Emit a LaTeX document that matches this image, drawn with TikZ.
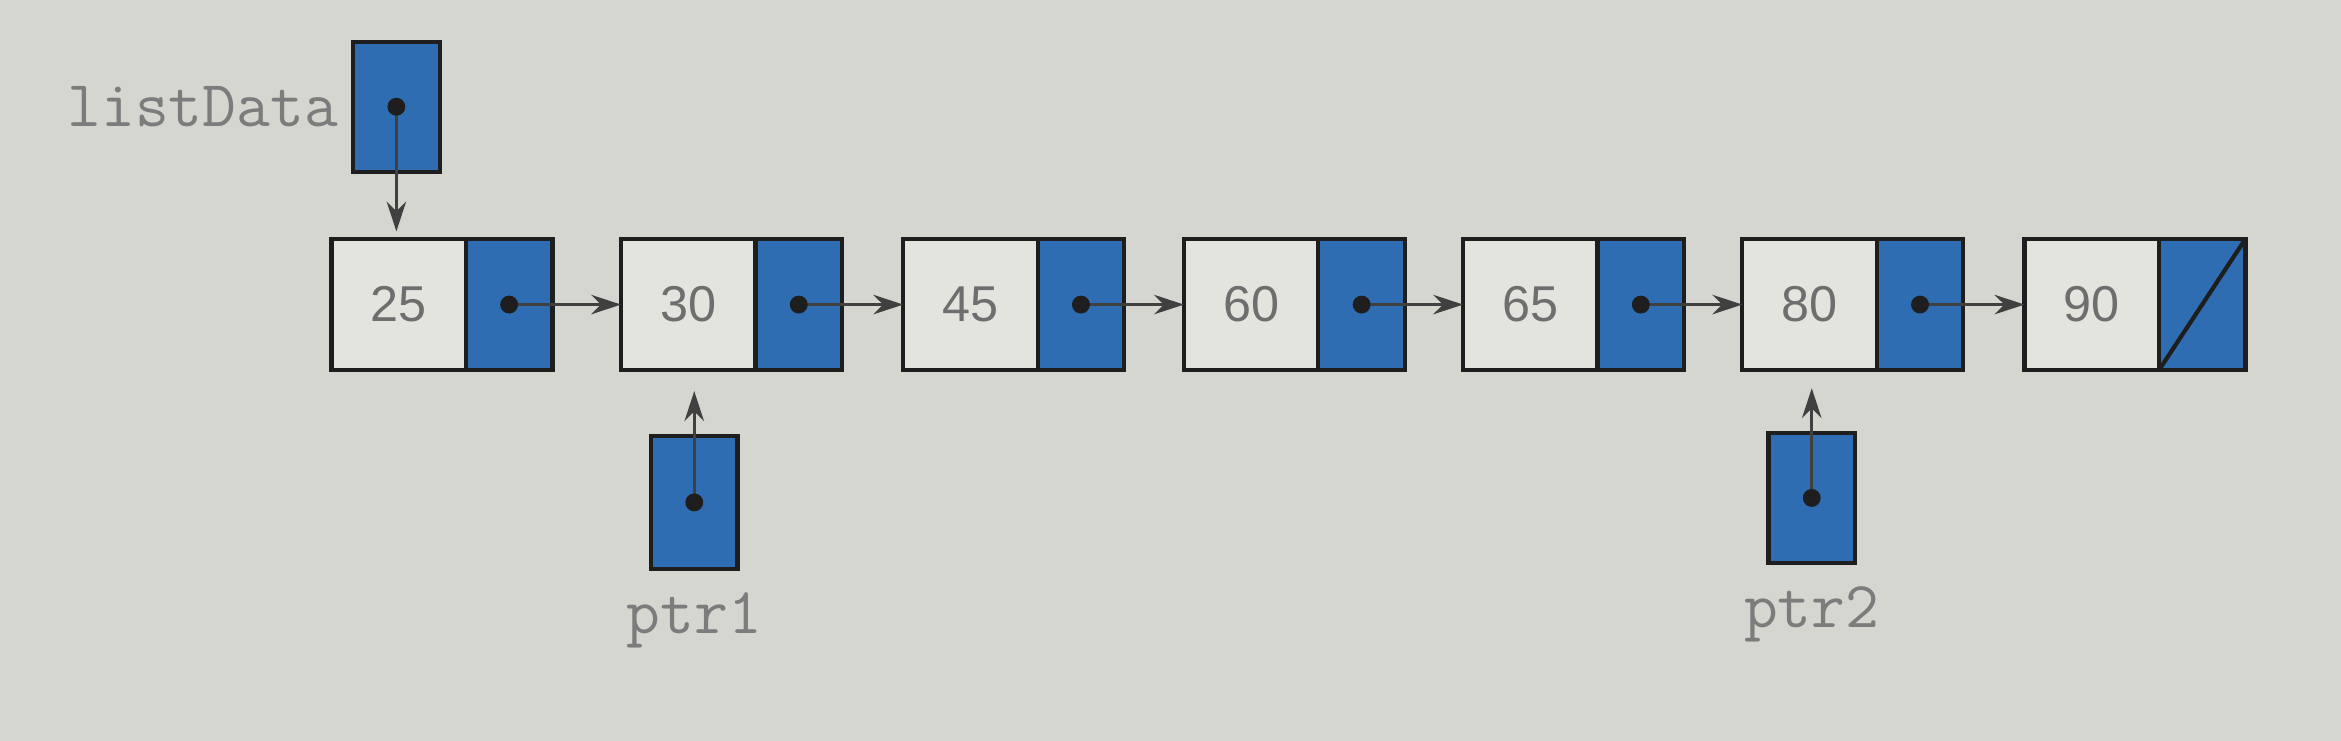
\documentclass[tikz,border=0pt]{standalone}
\usepackage{fontspec}
\setmainfont{Liberation Sans}
\usetikzlibrary{positioning,arrows.meta}
\definecolor{paper}{HTML}{D5D6CF}
\definecolor{cell}{HTML}{E3E4DE}
\definecolor{cellblue}{HTML}{2F6DB3}
\definecolor{edge}{HTML}{1E1E1E}
\definecolor{digit}{HTML}{6E6E6E}
\definecolor{label}{HTML}{7C7C7C}
\begin{document}
\begin{tikzpicture}[>={Stealth[length=0.2cm,width=0.13cm]},
  datum/.style={draw=edge, fill=cell, line width=0.8pt, inner sep=0pt, outer sep=0pt,
    minimum width=0.9cm, minimum height=0.88cm, text=digit, font=\fontsize{9.6}{12}\selectfont},
  link/.style={draw=edge, fill=cellblue, line width=0.8pt, inner sep=0pt, outer sep=0pt,
    minimum width=0.58cm, minimum height=0.88cm},
  varname/.style={text=label, inner sep=1pt, font=\ttfamily\fontsize{12.5}{14}\selectfont},
  dot/.style={fill=edge},
  ptrline/.style={draw=edge!85, line width=0.6pt}]
  \fill[paper] (0,0) rectangle (15.68,4.96);
  \useasboundingbox (0,0) rectangle (15.68,4.96);

  \node[datum] (d1) at (2.67,2.92) {25};
  \node[link, right=0pt of d1] (l1) {};
  \node[datum] (d2) at (4.61,2.92) {30};
  \node[link, right=0pt of d2] (l2) {};
  \node[datum] (d3) at (6.50,2.92) {45};
  \node[link, right=0pt of d3] (l3) {};
  \node[datum] (d4) at (8.38,2.92) {60};
  \node[link, right=0pt of d4] (l4) {};
  \node[datum] (d5) at (10.25,2.92) {65};
  \node[link, right=0pt of d5] (l5) {};
  \node[datum] (d6) at (12.12,2.92) {80};
  \node[link, right=0pt of d6] (l6) {};
  \node[datum] (d7) at (14.01,2.92) {90};
  \node[link, right=0pt of d7] (l7) {};
  \draw[edge, line width=0.8pt] (l7.south west) -- (l7.north east);

  \draw[ptrline,->] (l1.center) -- (d2.west);
  \draw[ptrline,->] (l2.center) -- (d3.west);
  \draw[ptrline,->] (l3.center) -- (d4.west);
  \draw[ptrline,->] (l4.center) -- (d5.west);
  \draw[ptrline,->] (l5.center) -- (d6.west);
  \draw[ptrline,->] (l6.center) -- (d7.west);
  \fill[dot] (l1.center) circle (0.06);
  \fill[dot] (l2.center) circle (0.06);
  \fill[dot] (l3.center) circle (0.06);
  \fill[dot] (l4.center) circle (0.06);
  \fill[dot] (l5.center) circle (0.06);
  \fill[dot] (l6.center) circle (0.06);

  \node[link, minimum height=0.87cm] (head) at (2.655,4.245) {};
  \node[varname, anchor=east] (headname) at ([xshift=-0.06cm]head.west) {listData};
  \draw[ptrline,->, shorten >=0.05cm] (head.center) -- (head.center |- d1.north);
  \fill[dot] (head.center) circle (0.06);

  \node[link, minimum height=0.89cm] (p1) at (4.65,1.595) {};
  \node[varname, below=0.12cm of p1] (p1name) {ptr1};
  \draw[ptrline,->, shorten >=0.14cm] (p1.center) -- (p1.center |- d2.south);
  \fill[dot] (p1.center) circle (0.06);

  \node[link, minimum height=0.87cm] (p2) at (12.135,1.625) {};
  \node[varname, below=0.12cm of p2] (p2name) {ptr2};
  \draw[ptrline,->, shorten >=0.12cm] (p2.center) -- (p2.center |- d6.south);
  \fill[dot] (p2.center) circle (0.06);
\end{tikzpicture}
\end{document}
